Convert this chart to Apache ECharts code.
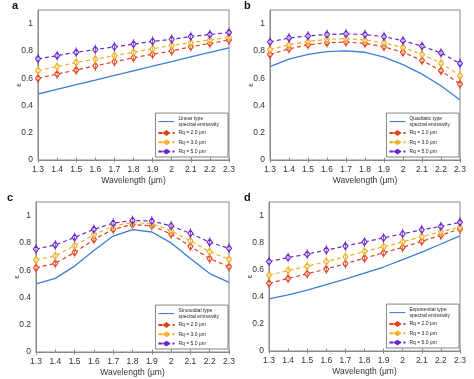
<!DOCTYPE html>
<html>
<head>
<meta charset="utf-8">
<script src="https://cdn.jsdelivr.net/npm/echarts@6/dist/echarts.min.js"></script>
<style>html,body{margin:0;padding:0;background:#fff}#c{width:474px;height:379px}</style>
</head>
<body>
<div id="c"></div>
<script>
const wavelengths = ['1.3','1.4','1.5','1.6','1.7','1.8','1.9','2','2.1','2.2','2.3'];
const yTicks = [0, 0.2, 0.4, 0.6, 0.8, 1];
const rqNames = ['Rq = 2.0 μm', 'Rq = 3.0 μm', 'Rq = 5.0 μm'];

// Panel a: linear
const linearBase = [0.484, 0.518, 0.552, 0.586, 0.62, 0.654, 0.688, 0.722, 0.756, 0.79, 0.822];
const linearRq2  = [0.60, 0.63, 0.66, 0.69, 0.72, 0.75, 0.775, 0.80, 0.83, 0.855, 0.88];
const linearRq3  = [0.655, 0.685, 0.715, 0.74, 0.765, 0.79, 0.815, 0.84, 0.86, 0.88, 0.90];
const linearRq5  = [0.742, 0.765, 0.79, 0.81, 0.83, 0.85, 0.87, 0.885, 0.905, 0.92, 0.935];

// Panel b: quadratic
const quadBase = [0.684, 0.74, 0.775, 0.795, 0.80, 0.79, 0.755, 0.70, 0.63, 0.545, 0.44];
const quadRq2  = [0.774, 0.815, 0.845, 0.86, 0.865, 0.855, 0.83, 0.79, 0.73, 0.655, 0.557];
const quadRq3  = [0.81, 0.845, 0.87, 0.885, 0.89, 0.88, 0.86, 0.825, 0.775, 0.71, 0.618];
const quadRq5  = [0.866, 0.895, 0.91, 0.92, 0.925, 0.92, 0.905, 0.875, 0.835, 0.785, 0.708];

// Panel c: sinusoidal
const sinBase = [0.50, 0.54, 0.63, 0.745, 0.85, 0.898, 0.88, 0.80, 0.685, 0.575, 0.51];
const sinRq2  = [0.618, 0.65, 0.73, 0.825, 0.90, 0.935, 0.925, 0.865, 0.775, 0.685, 0.625];
const sinRq3  = [0.675, 0.705, 0.78, 0.86, 0.925, 0.95, 0.94, 0.89, 0.815, 0.735, 0.68];
const sinRq5  = [0.755, 0.785, 0.84, 0.90, 0.945, 0.965, 0.96, 0.925, 0.87, 0.805, 0.76];

// Panel d: exponential
const expBase = [0.384, 0.415, 0.45, 0.49, 0.53, 0.575, 0.62, 0.675, 0.73, 0.79, 0.85];
const expRq2  = [0.50, 0.535, 0.57, 0.605, 0.645, 0.685, 0.725, 0.765, 0.81, 0.855, 0.90];
const expRq3  = [0.56, 0.595, 0.625, 0.66, 0.695, 0.735, 0.77, 0.805, 0.845, 0.88, 0.915];
const expRq5  = [0.66, 0.69, 0.715, 0.745, 0.775, 0.805, 0.835, 0.865, 0.895, 0.92, 0.95];

const panels = [
  {label:'a', labelPos:[12, 0], baseName:'Linear type\nspectral emissivity', base:linearBase, rq:[linearRq2,linearRq3,linearRq5], grid:{left:38, top:10, width:191, height:150}},
  {label:'b', labelPos:[244, 0], baseName:'Quadratic type\nspectral emissivity', base:quadBase, rq:[quadRq2,quadRq3,quadRq5], grid:{left:270, top:10, width:190, height:150}},
  {label:'c', labelPos:[7, 192], baseName:'Sinusodial type\nspectral emissivity', base:sinBase, rq:[sinRq2,sinRq3,sinRq5], grid:{left:36, top:202, width:193, height:150}},
  {label:'d', labelPos:[244, 192], baseName:'Exponential type\nspectral emissivity', base:expBase, rq:[expRq2,expRq3,expRq5], grid:{left:269, top:202, width:191, height:149}}
];

const blue = '#3b7fd6';
const rqColors = ['#e2401f', '#f0b024', '#6a26c9'];
const FONT = 'Liberation Sans';
const marker = 'path://M5,3 L10,10 L5,17 L0,10 Z M5,0 L5,20';

const option = {
  animation:false,
  backgroundColor:'#fff',
  textStyle:{fontFamily:FONT},
  title:[], grid:[], xAxis:[], yAxis:[], series:[], legend:[]
};

panels.forEach((p, i) => {
  option.title.push({text:p.label, left:p.labelPos[0], top:p.labelPos[1], padding:0,
    textStyle:{fontSize:11, fontWeight:'bold', color:'#111', fontFamily:FONT}});
  option.grid.push(Object.assign({show:true, borderColor:'#888', borderWidth:1, backgroundColor:'#fff'}, p.grid));
  const gridBottom = p.grid.top + p.grid.height;
  option.xAxis.push({
    type:'category', gridIndex:i, data:wavelengths, boundaryGap:false,
    name:'Wavelength (μm)', nameLocation:'middle', nameGap:16,
    nameTextStyle:{fontSize:8.5, color:'#333'},
    axisLine:{lineStyle:{color:'#888'}},
    axisTick:{inside:true, length:2.5, alignWithLabel:true, lineStyle:{color:'#888'}},
    axisLabel:{fontSize:8.5, color:'#333', margin:5},
    splitLine:{show:false}
  });
  option.xAxis.push({
    type:'category', gridIndex:i, data:wavelengths, boundaryGap:false, position:'top',
    axisLine:{show:false}, axisTick:{inside:true, length:2.5, lineStyle:{color:'#888'}},
    axisLabel:{show:false}, splitLine:{show:false}
  });
  option.yAxis.push({
    type:'value', gridIndex:i, min:0, max:1.1, interval:0.2,
    name:'ε', nameLocation:'middle', nameGap:15, nameRotate:90, nameMoveOverlap:false,
    nameTextStyle:{fontSize:8, color:'#333'},
    axisLine:{show:true, lineStyle:{color:'#888'}},
    axisTick:{inside:true, length:2.5, lineStyle:{color:'#888'}},
    axisLabel:{fontSize:8.5, color:'#333', margin:5, showMaxLabel:false,
      formatter:v => yTicks.indexOf(Math.round(v*10)/10) >= 0 ? String(Math.round(v*10)/10) : ''},
    splitLine:{show:false}
  });
  option.yAxis.push({
    type:'value', gridIndex:i, min:0, max:1.1, interval:0.2, position:'right',
    axisLine:{show:false}, axisTick:{inside:true, length:2.5, lineStyle:{color:'#888'}},
    axisLabel:{show:false}, splitLine:{show:false}
  });
  option.series.push({
    name:p.baseName, type:'line', xAxisIndex:2*i, yAxisIndex:2*i, data:p.base,
    showSymbol:false, symbol:'none', lineStyle:{color:blue, width:1.3}, itemStyle:{color:blue}
  });
  p.rq.forEach((d, k) => {
    option.series.push({
      name:rqNames[k], type:'line', xAxisIndex:2*i, yAxisIndex:2*i, data:d,
      symbol:marker, symbolSize:[5, 10], showSymbol:true,
      lineStyle:{color:rqColors[k], width:1.2, type:[4,3]},
      itemStyle:{color:'#fff', borderColor:rqColors[k], borderWidth:1.1},
      z:3+k
    });
  });
  const gRight = p.grid.left + p.grid.width;
  option.legend.push({
    orient:'vertical',
    right: 474 - gRight + 1,
    bottom: 379 - (gridBottom - 3),
    data:[{name:p.baseName, icon:'path://M0,4 L30,4 L30,6 L0,6 Z', itemStyle:{color:blue}},
          ...rqNames.map(n=>({name:n}))],
    backgroundColor:'#fff', borderColor:'#666', borderWidth:0.8,
    padding:[3, 9, 2, 2], itemGap:2.5, itemWidth:16, itemHeight:6,
    textStyle:{fontSize:5, color:'#222', lineHeight:5.5, fontFamily:FONT, padding:[0,0,0,-1]},
    selectedMode:false
  });
});

const chart = echarts.init(document.getElementById('c'), null, {renderer:'canvas'});
chart.setOption(option);
</script>
</body>
</html>
